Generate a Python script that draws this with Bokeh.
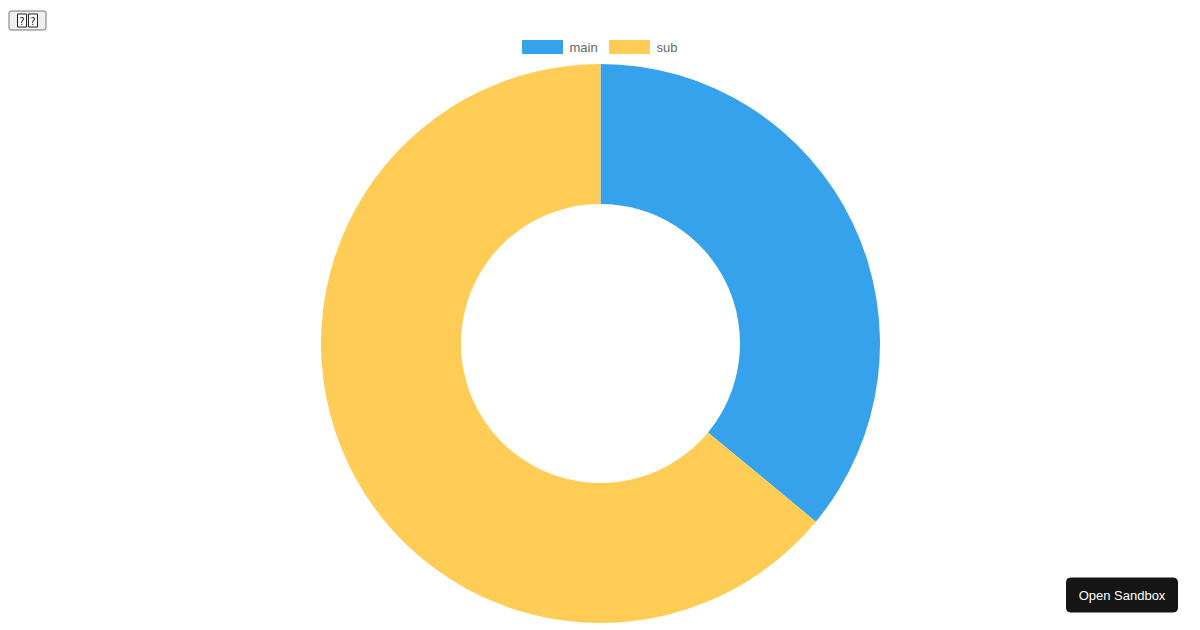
from bokeh.plotting import figure
from bokeh.models import Range1d, ColumnDataSource
from bokeh.core.properties import value
from bokeh.embed import file_html
from bokeh.resources import INLINE
import math

labels = ["main", "sub"]
values = [36, 64]
colors = ["#36A2EB", "#FFCD56"]

W, H = 1200, 630
PAGE_H = 630

def sy(y):  # screen y -> data y
    return PAGE_H - y

p = figure(width=W, height=H, output_backend="svg", toolbar_location=None,
           x_range=Range1d(0, W), y_range=Range1d(PAGE_H - H, PAGE_H),
           min_border=0, outline_line_color=None)
p.axis.visible = False
p.grid.visible = False
p.background_fill_color = "white"

# donut
total = sum(values)
starts, ends = [], []
a = math.pi / 2
for v in values:
    starts.append(a)
    a -= v / total * 2 * math.pi
    ends.append(a)

cx, cy = 600, sy(343)
src = ColumnDataSource(dict(start=starts, end=ends, color=colors, label=labels))
p.annular_wedge(x=cx, y=cy, inner_radius=139.5, outer_radius=279.5,
                start_angle="start", end_angle="end", direction="clock",
                fill_color="color", line_color=None,
                inner_radius_units="screen", outer_radius_units="screen", source=src)

# legend
box_x = [542, 629]
text_x = [569, 656]
p.rect(x=box_x, y=[sy(46.5)] * 2, width=40, height=13, width_units="screen",
       height_units="screen", fill_color=colors, line_color=colors, line_width=1)
p.text(x=text_x, y=[sy(46.5)] * 2, text=labels, text_font=value("Liberation Sans"),
       text_font_size="13px", text_color="#666666", text_baseline="middle", text_align="left")

# top-left button
p.rect(x=[27], y=[sy(20)], width=37, height=19, width_units="screen", height_units="screen",
       fill_color="#efefef", line_color="#767676", line_width=1,
       border_radius=2)
p.rect(x=[21.5, 32.5], y=[sy(20)] * 2, width=9, height=13, width_units="screen",
       height_units="screen", fill_color="#fdfdfd", line_color="#222222", line_width=1)
p.text(x=[21.5, 32.5], y=[sy(20.5)] * 2, text=["?", "?"], text_font=value("DejaVu Sans"),
       text_font_size="10px", text_color="#222222", text_baseline="middle", text_align="center")

# Open Sandbox button
p.rect(x=[1121.5], y=[sy(594.5)], width=111, height=34, width_units="screen",
       height_units="screen", fill_color="#151515", line_color="#151515", border_radius=4)
p.text(x=[1121.5], y=[sy(594.5)], text=["Open Sandbox"], text_font=value("Liberation Sans"),
       text_font_size="13px", text_color="#ffffff", text_baseline="middle", text_align="center")

open("out.html", "w").write(file_html(p, INLINE))
